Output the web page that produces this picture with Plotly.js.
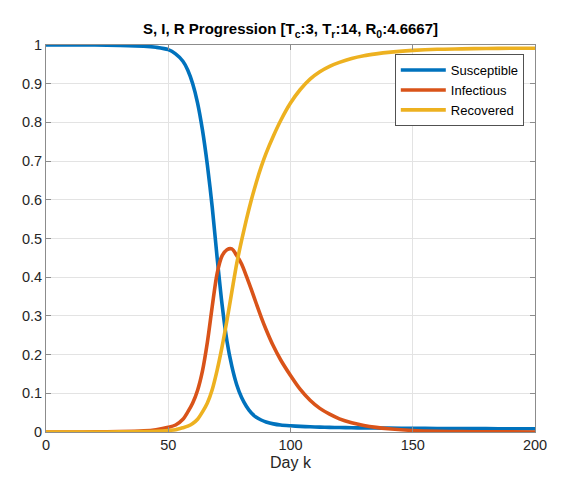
<!DOCTYPE html>
<html>
<head>
<meta charset="utf-8">
<script src="https://cdn.plot.ly/plotly-3.0.1.min.js"></script>
<style>
  html, body { margin: 0; padding: 0; background: #fff; }
  #plot { width: 563px; height: 485px; }
</style>
</head>
<body>
<div id="plot"></div>
<script>
// values
const days = [0, 10, 20, 30, 40, 45, 50, 53, 56, 58, 60, 62, 64, 66, 68, 70, 72, 74, 76, 78,
              80, 82, 84, 86, 88, 90, 93, 96, 100, 104, 108, 112, 116, 120, 125, 130, 135, 140,
              150, 160, 170, 180, 190, 200];

const susceptible = [1.0, 1.0, 1.0, 0.999, 0.997, 0.994, 0.988, 0.977, 0.958, 0.935, 0.90, 0.85,
                     0.78, 0.69, 0.58, 0.45, 0.33, 0.235, 0.17, 0.122, 0.089, 0.066, 0.049, 0.038,
                     0.031, 0.026, 0.021, 0.018, 0.016, 0.0145, 0.0135, 0.0125, 0.012, 0.0115,
                     0.011, 0.0105, 0.0102, 0.01, 0.0095, 0.009, 0.0088, 0.0086, 0.0085, 0.0085];

const infectious = [0, 0.0001, 0.0003, 0.001, 0.003, 0.006, 0.012, 0.018, 0.033, 0.052, 0.075, 0.108,
                    0.158, 0.232, 0.325, 0.41, 0.455, 0.471, 0.473, 0.456, 0.434, 0.402, 0.368, 0.332,
                    0.297, 0.265, 0.222, 0.186, 0.146, 0.11, 0.082, 0.061, 0.046, 0.034, 0.024, 0.017,
                    0.012, 0.0085, 0.004, 0.002, 0.001, 0.0005, 0.00025, 0.00012];

const recovered = [0, 0, 0.0001, 0.0003, 0.001, 0.002, 0.004, 0.006, 0.011, 0.015, 0.022, 0.033,
                   0.052, 0.075, 0.11, 0.16, 0.22, 0.288, 0.362, 0.435, 0.495, 0.55, 0.60, 0.645,
                   0.685, 0.72, 0.765, 0.805, 0.85, 0.885, 0.912, 0.931, 0.945, 0.955, 0.965, 0.972,
                   0.977, 0.981, 0.986, 0.989, 0.990, 0.991, 0.9915, 0.9915];

const xTicks = [0, 50, 100, 150, 200];
const yTicks = [0, 0.1, 0.2, 0.3, 0.4, 0.5, 0.6, 0.7, 0.8, 0.9, 1];
const yTickText = ['0', '0.1', '0.2', '0.3', '0.4', '0.5', '0.6', '0.7', '0.8', '0.9', '1'];

const FONT = 'Liberation Sans, Arial, sans-serif';

// MATLAB-owe domyslne kolory
function trace(name, y, color) {
    return {
        type: 'scatter',
        mode: 'lines',
        name: name,
        x: days,
        y: y,
        line: {color: color, width: 3.6, shape: 'spline', smoothing: 0.8}
    };
}

const data = [
    trace('Susceptible', susceptible, '#0072BD'),
    trace('Infectious', infectious, '#D95319'),
    trace('Recovered', recovered, '#EDB120')
];

const axisCommon = {
    showline: true,
    linecolor: '#8c8c8c',
    linewidth: 1,
    mirror: 'ticks',
    ticks: 'inside',
    ticklen: 5,
    tickcolor: '#8c8c8c',
    showgrid: true,
    gridcolor: '#e3e3e3',
    gridwidth: 1,
    zeroline: false,
    tickfont: {family: FONT, size: 14.5, color: '#262626'}
};

const layout = {
    width: 563,
    height: 485,
    margin: {l: 46, r: 28, t: 45, b: 53},
    paper_bgcolor: '#ffffff',
    plot_bgcolor: '#ffffff',
    showlegend: true,
    title: {
        text: '<b>S, I, R Progression [T<sub>c</sub>:3, T<sub>r</sub>:14, R<sub>0</sub>:4.6667]</b>',
        font: {family: FONT, size: 15, color: '#000'},
        xref: 'paper',
        x: 0.5,
        xanchor: 'center',
        yref: 'container',
        y: 0.94,
        yanchor: 'middle'
    },
    xaxis: Object.assign({}, axisCommon, {
        range: [0, 200],
        tickvals: xTicks,
        ticktext: xTicks.map(String),
        title: {text: 'Day k', font: {family: FONT, size: 16, color: '#262626'}, standoff: 4}
    }),
    yaxis: Object.assign({}, axisCommon, {
        range: [0, 1],
        tickvals: yTicks,
        ticktext: yTickText
    }),
    legend: {
        x: 0.9775,
        y: 0.976,
        xanchor: 'right',
        yanchor: 'top',
        bgcolor: '#ffffff',
        bordercolor: '#262626',
        borderwidth: 0.8,
        itemwidth: 45,
        tracegroupgap: 0,
        font: {family: FONT, size: 13, color: '#000'}
    }
};

Plotly.newPlot('plot', data, layout, {displayModeBar: false, staticPlot: true});
</script>
</body>
</html>
